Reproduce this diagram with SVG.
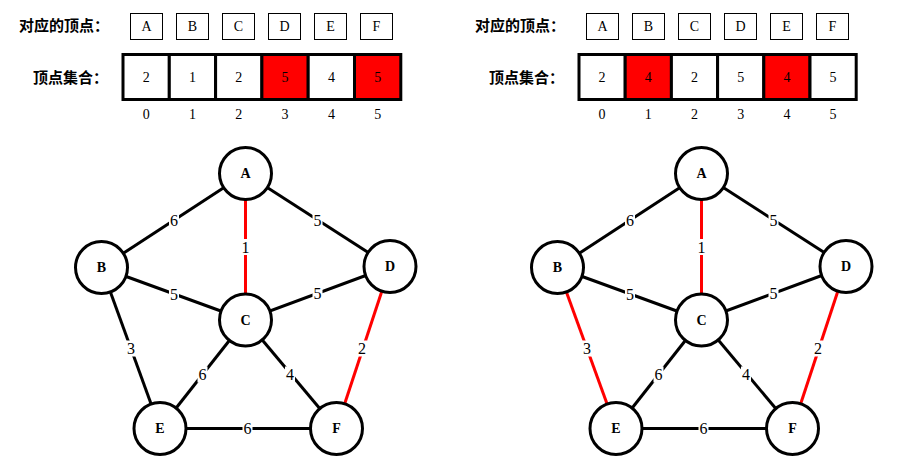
<svg xmlns="http://www.w3.org/2000/svg" width="904" height="466" viewBox="0 0 904 466">
<style>
.cap{font-family:"Noto Sans CJK SC","Liberation Sans",sans-serif;font-weight:bold;font-size:15px;fill:#000}
.lbl{font-family:"Liberation Serif",serif;font-size:14px;fill:#000;text-anchor:middle;dominant-baseline:central}
.box{fill:#fff;stroke:#000;stroke-width:1}
.cell{fill:#fff;stroke:#000;stroke-width:3}
.hot{fill:#ff0000}
.node circle{fill:#fff;stroke:#000;stroke-width:3}
.node text{font-family:"Liberation Serif",serif;font-weight:bold;font-size:14px;text-anchor:middle;dominant-baseline:central}
.e{stroke:#000;stroke-width:3}
.r{stroke:#ff0000}
.wl rect{fill:#fff}
.wl text{font-family:"Liberation Serif",serif;font-size:16px;text-anchor:middle;dominant-baseline:central}
</style>

<!-- LEFT PANEL -->
<g id="left-table">
<text class="cap" x="19" y="31">对应的顶点：</text>
<text class="cap" x="33" y="83">顶点集合：</text>
<g id="left-vertex-boxes">
<rect class="box" x="130.5" y="13.5" width="32" height="26"/><text class="lbl" x="146.5" y="26.5">A</text>
<rect class="box" x="176.5" y="13.5" width="32" height="26"/><text class="lbl" x="192.5" y="26.5">B</text>
<rect class="box" x="222.5" y="13.5" width="32" height="26"/><text class="lbl" x="238.5" y="26.5">C</text>
<rect class="box" x="268.5" y="13.5" width="32" height="26"/><text class="lbl" x="284.5" y="26.5">D</text>
<rect class="box" x="314.5" y="13.5" width="32" height="26"/><text class="lbl" x="330.5" y="26.5">E</text>
<rect class="box" x="360.5" y="13.5" width="32" height="26"/><text class="lbl" x="376.5" y="26.5">F</text>
</g>
<g id="left-array">
<rect class="cell" x="123" y="54.5" width="46.3" height="45"/>
<rect class="cell" x="169.3" y="54.5" width="46.3" height="45"/>
<rect class="cell" x="215.6" y="54.5" width="46.3" height="45"/>
<rect class="cell hot" x="261.9" y="54.5" width="46.3" height="45"/>
<rect class="cell" x="308.2" y="54.5" width="46.3" height="45"/>
<rect class="cell hot" x="354.5" y="54.5" width="46.3" height="45"/>
<text class="lbl" x="146.2" y="77">2</text>
<text class="lbl" x="192.5" y="77">1</text>
<text class="lbl" x="238.8" y="77">2</text>
<text class="lbl" x="285.1" y="77">5</text>
<text class="lbl" x="331.4" y="77">4</text>
<text class="lbl" x="377.7" y="77">5</text>
<text class="lbl" x="146.2" y="114">0</text>
<text class="lbl" x="192.5" y="114">1</text>
<text class="lbl" x="238.8" y="114">2</text>
<text class="lbl" x="285.1" y="114">3</text>
<text class="lbl" x="331.4" y="114">4</text>
<text class="lbl" x="377.7" y="114">5</text>
</g>
</g>

<g id="left-connectors">
<line class="e" x1="245.5" y1="173.5" x2="101.5" y2="267.5"/>
<line class="e r" x1="245.5" y1="173.5" x2="245.5" y2="320"/>
<line class="e" x1="245.5" y1="173.5" x2="390" y2="266.5"/>
<line class="e" x1="101.5" y1="267.5" x2="245.5" y2="320"/>
<line class="e" x1="390" y1="266.5" x2="245.5" y2="320"/>
<line class="e" x1="101.5" y1="267.5" x2="160" y2="428.5"/>
<line class="e" x1="245.5" y1="320" x2="160" y2="428.5"/>
<line class="e" x1="245.5" y1="320" x2="336.5" y2="428.5"/>
<line class="e r" x1="390" y1="266.5" x2="336.5" y2="428.5"/>
<line class="e" x1="160" y1="428.5" x2="336.5" y2="428.5"/>
<g class="wl">
<rect x="169" y="212" width="10" height="16"/><text x="174" y="220">6</text>
<rect x="240.5" y="239" width="10" height="16"/><text x="245.5" y="247">1</text>
<rect x="312.5" y="212" width="10" height="16"/><text x="317.5" y="220">5</text>
<rect x="169" y="286" width="10" height="16"/><text x="174" y="294">5</text>
<rect x="312.5" y="285.5" width="10" height="16"/><text x="317.5" y="293.5">5</text>
<rect x="126" y="340.5" width="10" height="16"/><text x="131" y="348.5">3</text>
<rect x="197.5" y="366.5" width="10" height="16"/><text x="202.5" y="374.5">6</text>
<rect x="285" y="366.5" width="10" height="16"/><text x="290" y="374.5">4</text>
<rect x="357" y="340.5" width="10" height="16"/><text x="362" y="348.5">2</text>
<rect x="242.5" y="420" width="10" height="16"/><text x="247.5" y="428">6</text>
</g>
</g>

<g id="left-A" class="node"><circle cx="245.5" cy="173.5" r="26"/><text x="245.5" y="173.5">A</text></g>
<g id="left-B" class="node"><circle cx="101.5" cy="267.5" r="26"/><text x="101.5" y="267.5">B</text></g>
<g id="left-C" class="node"><circle cx="245.5" cy="320" r="26"/><text x="245.5" y="320">C</text></g>
<g id="left-D" class="node"><circle cx="390" cy="266.5" r="26"/><text x="390" y="266.5">D</text></g>
<g id="left-E" class="node"><circle cx="160" cy="428.5" r="26"/><text x="160" y="428.5">E</text></g>
<g id="left-F" class="node"><circle cx="336.5" cy="428.5" r="26"/><text x="336.5" y="428.5">F</text></g>

<!-- RIGHT PANEL -->
<g id="right-table">
<text class="cap" x="475" y="31">对应的顶点：</text>
<text class="cap" x="489" y="83">顶点集合：</text>
<g id="right-vertex-boxes">
<rect class="box" x="586.5" y="13.5" width="32" height="26"/><text class="lbl" x="602.5" y="26.5">A</text>
<rect class="box" x="632.5" y="13.5" width="32" height="26"/><text class="lbl" x="648.5" y="26.5">B</text>
<rect class="box" x="678.5" y="13.5" width="32" height="26"/><text class="lbl" x="694.5" y="26.5">C</text>
<rect class="box" x="724.5" y="13.5" width="32" height="26"/><text class="lbl" x="740.5" y="26.5">D</text>
<rect class="box" x="770.5" y="13.5" width="32" height="26"/><text class="lbl" x="786.5" y="26.5">E</text>
<rect class="box" x="816.5" y="13.5" width="32" height="26"/><text class="lbl" x="832.5" y="26.5">F</text>
</g>
<g id="right-array">
<rect class="cell" x="579" y="54.5" width="46.2" height="45"/>
<rect class="cell hot" x="625.2" y="54.5" width="46.2" height="45"/>
<rect class="cell" x="671.4" y="54.5" width="46.2" height="45"/>
<rect class="cell" x="717.6" y="54.5" width="46.2" height="45"/>
<rect class="cell hot" x="763.8" y="54.5" width="46.2" height="45"/>
<rect class="cell" x="810" y="54.5" width="46.2" height="45"/>
<text class="lbl" x="602.1" y="77">2</text>
<text class="lbl" x="648.3" y="77">4</text>
<text class="lbl" x="694.5" y="77">2</text>
<text class="lbl" x="740.7" y="77">5</text>
<text class="lbl" x="786.9" y="77">4</text>
<text class="lbl" x="833.1" y="77">5</text>
<text class="lbl" x="602.1" y="114">0</text>
<text class="lbl" x="648.3" y="114">1</text>
<text class="lbl" x="694.5" y="114">2</text>
<text class="lbl" x="740.7" y="114">3</text>
<text class="lbl" x="786.9" y="114">4</text>
<text class="lbl" x="833.1" y="114">5</text>
</g>
</g>

<g id="right-connectors">
<line class="e" x1="701.5" y1="173.5" x2="557.5" y2="267.5"/>
<line class="e r" x1="701.5" y1="173.5" x2="701.5" y2="320"/>
<line class="e" x1="701.5" y1="173.5" x2="846" y2="266.5"/>
<line class="e" x1="557.5" y1="267.5" x2="701.5" y2="320"/>
<line class="e" x1="846" y1="266.5" x2="701.5" y2="320"/>
<line class="e r" x1="557.5" y1="267.5" x2="616" y2="428.5"/>
<line class="e" x1="701.5" y1="320" x2="616" y2="428.5"/>
<line class="e" x1="701.5" y1="320" x2="792.5" y2="428.5"/>
<line class="e r" x1="846" y1="266.5" x2="792.5" y2="428.5"/>
<line class="e" x1="616" y1="428.5" x2="792.5" y2="428.5"/>
<g class="wl">
<rect x="625" y="212" width="10" height="16"/><text x="630" y="220">6</text>
<rect x="696.5" y="239" width="10" height="16"/><text x="701.5" y="247">1</text>
<rect x="768.5" y="212" width="10" height="16"/><text x="773.5" y="220">5</text>
<rect x="625" y="286" width="10" height="16"/><text x="630" y="294">5</text>
<rect x="768.5" y="285.5" width="10" height="16"/><text x="773.5" y="293.5">5</text>
<rect x="582" y="340.5" width="10" height="16"/><text x="587" y="348.5">3</text>
<rect x="653.5" y="366.5" width="10" height="16"/><text x="658.5" y="374.5">6</text>
<rect x="741" y="366.5" width="10" height="16"/><text x="746" y="374.5">4</text>
<rect x="813" y="340.5" width="10" height="16"/><text x="818" y="348.5">2</text>
<rect x="698.5" y="420" width="10" height="16"/><text x="703.5" y="428">6</text>
</g>
</g>

<g id="right-A" class="node"><circle cx="701.5" cy="173.5" r="26"/><text x="701.5" y="173.5">A</text></g>
<g id="right-B" class="node"><circle cx="557.5" cy="267.5" r="26"/><text x="557.5" y="267.5">B</text></g>
<g id="right-C" class="node"><circle cx="701.5" cy="320" r="26"/><text x="701.5" y="320">C</text></g>
<g id="right-D" class="node"><circle cx="846" cy="266.5" r="26"/><text x="846" y="266.5">D</text></g>
<g id="right-E" class="node"><circle cx="616" cy="428.5" r="26"/><text x="616" y="428.5">E</text></g>
<g id="right-F" class="node"><circle cx="792.5" cy="428.5" r="26"/><text x="792.5" y="428.5">F</text></g>
</svg>
